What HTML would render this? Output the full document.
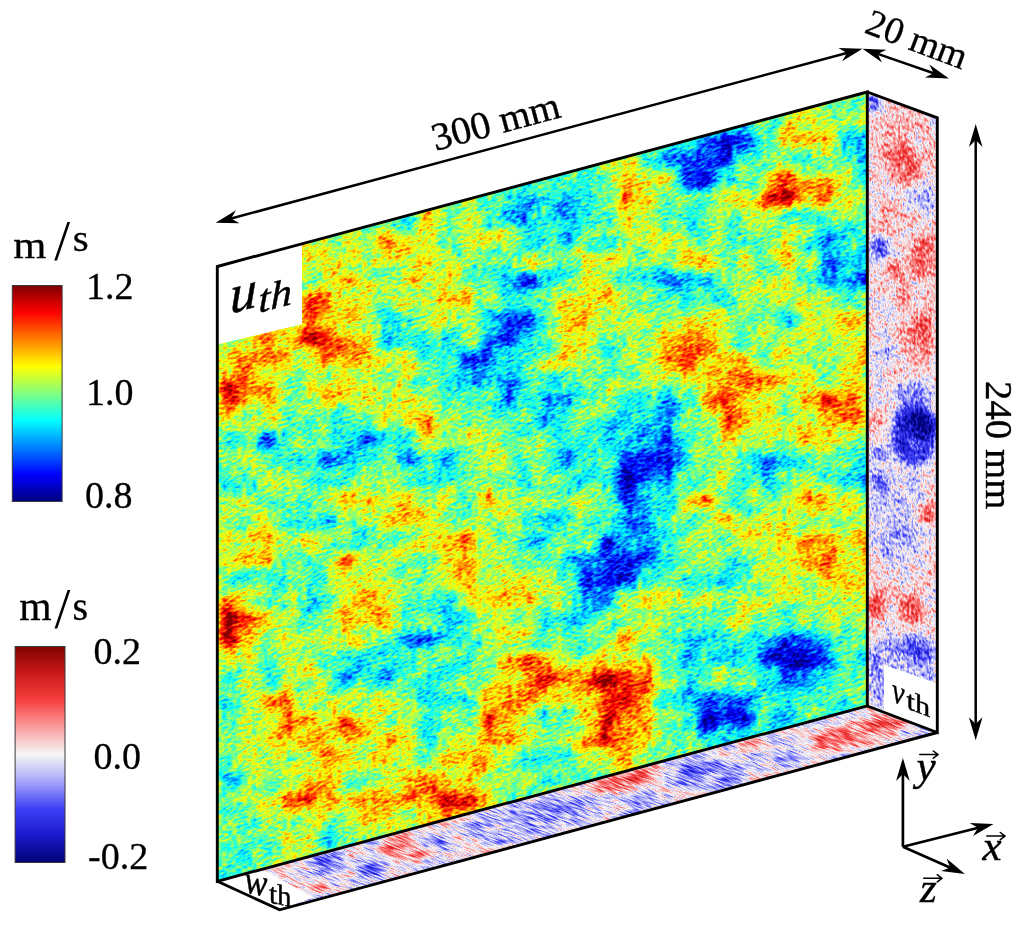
<!DOCTYPE html>
<html lang="en"><head><meta charset="utf-8"><title>Thermal velocity fields</title>
<style>
html,body{margin:0;padding:0;background:#fff;overflow:hidden}
svg{display:block}
.se{font-family:"Liberation Serif","DejaVu Serif",serif}
.it{font-family:"Liberation Serif","DejaVu Serif",serif;font-style:italic}
</style></head>
<body>
<svg width="1025" height="927" viewBox="0 0 1025 927">
<defs>
<linearGradient id="gjet" x1="0" y1="1" x2="0" y2="0">
<stop offset="0" stop-color="#000080"/><stop offset="0.125" stop-color="#0000ff"/><stop offset="0.25" stop-color="#0080ff"/><stop offset="0.375" stop-color="#00ffff"/><stop offset="0.5" stop-color="#80ff80"/><stop offset="0.625" stop-color="#ffff00"/><stop offset="0.75" stop-color="#ff8000"/><stop offset="0.875" stop-color="#ff0000"/><stop offset="1" stop-color="#800000"/>
</linearGradient>
<linearGradient id="gbwr" x1="0" y1="1" x2="0" y2="0">
<stop offset="0" stop-color="#000073"/><stop offset="0.125" stop-color="#1a1acc"/><stop offset="0.25" stop-color="#4040f7"/><stop offset="0.375" stop-color="#a6a6fa"/><stop offset="0.5" stop-color="#f7f7f7"/><stop offset="0.625" stop-color="#fa9e9e"/><stop offset="0.75" stop-color="#f74040"/><stop offset="0.875" stop-color="#cc1a1a"/><stop offset="1" stop-color="#800000"/>
</linearGradient>
<filter id="blurF" filterUnits="userSpaceOnUse" x="180" y="60" width="720" height="860" color-interpolation-filters="sRGB">
<feMorphology in="SourceGraphic" operator="erode" radius="3" result="e0"/>
<feComponentTransfer in="e0" result="e"><feFuncR type="table" tableValues="0.5 0.5 1"/></feComponentTransfer>
<feMorphology in="SourceGraphic" operator="dilate" radius="3" result="d0"/>
<feComponentTransfer in="d0" result="d"><feFuncR type="table" tableValues="0 0.5 0.5"/></feComponentTransfer>
<feComposite in="e" in2="d" operator="arithmetic" k1="0" k2="1" k3="1" k4="-0.5" result="m"/>
<feGaussianBlur in="m" stdDeviation="4.6"/>
<feComponentTransfer><feFuncR type="table" tableValues="0 0.07 0.16 0.275 0.39 0.5 0.61 0.725 0.85 0.95 1"/></feComponentTransfer>
</filter>
<filter id="blurS" filterUnits="userSpaceOnUse" x="180" y="60" width="790" height="870" color-interpolation-filters="sRGB"><feGaussianBlur stdDeviation="4"/></filter>
<filter id="nF" filterUnits="userSpaceOnUse" x="-20" y="-20" width="700" height="660" color-interpolation-filters="sRGB">
<feTurbulence type="fractalNoise" baseFrequency="0.045 0.055" numOctaves="3" seed="4" result="t1"/>
<feColorMatrix in="t1" type="matrix" values="0 0 0 0 0 1 0 0 0 0 0 0 0 0 0 0 0 0 0 1" result="n1"/>
<feTurbulence type="fractalNoise" baseFrequency="0.2 0.4" numOctaves="2" seed="11" result="t2"/>
<feColorMatrix in="t2" type="matrix" values="0 0 0 0 0 0 0 0 0 0 1 0 0 0 0 0 0 0 0 1" result="n2"/>
<feComposite in="n1" in2="n2" operator="arithmetic" k1="0" k2="1" k3="1" k4="0"/>
</filter>
<filter id="nR" filterUnits="userSpaceOnUse" x="-10" y="-10" width="100" height="680" color-interpolation-filters="sRGB">
<feTurbulence type="fractalNoise" baseFrequency="0.07 0.05" numOctaves="3" seed="9" result="t1"/>
<feColorMatrix in="t1" type="matrix" values="0 0 0 0 0 1 0 0 0 0 0 0 0 0 0 0 0 0 0 1" result="n1"/>
<feTurbulence type="fractalNoise" baseFrequency="0.45 0.25" numOctaves="2" seed="5" result="t2"/>
<feColorMatrix in="t2" type="matrix" values="0 0 0 0 0 0 0 0 0 0 1 0 0 0 0 0 0 0 0 1" result="n2"/>
<feComposite in="n1" in2="n2" operator="arithmetic" k1="0" k2="1" k3="1" k4="0"/>
</filter>
<filter id="nB" filterUnits="userSpaceOnUse" x="-20" y="-6" width="700" height="44" color-interpolation-filters="sRGB">
<feTurbulence type="fractalNoise" baseFrequency="0.05 0.1" numOctaves="3" seed="2" result="t1"/>
<feColorMatrix in="t1" type="matrix" values="0 0 0 0 0 1 0 0 0 0 0 0 0 0 0 0 0 0 0 1" result="n1"/>
<feTurbulence type="fractalNoise" baseFrequency="0.45 0.2" numOctaves="2" seed="8" result="t2"/>
<feColorMatrix in="t2" type="matrix" values="0 0 0 0 0 0 0 0 0 0 1 0 0 0 0 0 0 0 0 1" result="n2"/>
<feComposite in="n1" in2="n2" operator="arithmetic" k1="0" k2="1" k3="1" k4="0"/>
</filter>
<filter id="fjet" filterUnits="userSpaceOnUse" x="190" y="70" width="700" height="840" color-interpolation-filters="sRGB">
<feColorMatrix type="matrix" values="1 0.36 0.5 0 -0.43  1 0.36 0.5 0 -0.43  1 0.36 0.5 0 -0.43  0 0 0 0 1"/>
<feComponentTransfer>
<feFuncR type="table" tableValues="0 0 0 0 0.5 1 1 1 0.5"/><feFuncG type="table" tableValues="0 0 0.5 1 1 1 0.5 0 0"/><feFuncB type="table" tableValues="0.5 1 1 1 0.5 0 0 0 0"/>
</feComponentTransfer>
</filter>
<filter id="fbwr" filterUnits="userSpaceOnUse" x="190" y="70" width="770" height="850" color-interpolation-filters="sRGB">
<feColorMatrix type="matrix" values="1 0.28 0.62 0 -0.45  1 0.28 0.62 0 -0.45  1 0.28 0.62 0 -0.45  0 0 0 0 1"/>
<feComponentTransfer>
<feFuncR type="table" tableValues="0 0.1 0.25 0.65 0.97 0.98 0.97 0.8 0.5"/><feFuncG type="table" tableValues="0 0.1 0.25 0.65 0.97 0.62 0.25 0.1 0"/><feFuncB type="table" tableValues="0.45 0.8 0.97 0.98 0.97 0.62 0.25 0.1 0"/>
</feComponentTransfer>
</filter>
<clipPath id="cfront"><polygon points="217.3,266.5 867.3,92.0 867.3,706.0 217.3,881.3"/></clipPath>
<clipPath id="cright"><polygon points="867.3,92.0 937.3,117.8 937.3,732.5 867.3,706.0"/></clipPath>
<clipPath id="cbottom"><polygon points="217.3,881.3 867.3,706.0 937.3,732.5 279.6,909.8"/></clipPath>
</defs>
<rect width="1025" height="927" fill="#fff"/>

<!-- front face : u_th -->
<g clip-path="url(#cfront)"><g filter="url(#fjet)">
<g filter="url(#blurF)">
<rect x="170" y="50" width="740" height="880" fill="rgb(138,0,0)"/>
<path fill="rgb(18,0,0)" d="M717 130h20v20h-20zM617 470h20v20h-20zM597 570h20v20h-20zM777 650h40v20h-40zM697 710h20v20h-20z"/>
<path fill="rgb(46,0,0)" d="M737 130h20v20h-20zM677 150h60v20h-60zM677 170h40v20h-40zM517 270h20v20h-20zM657 270h20v20h-20zM857 270h20v20h-20zM497 310h40v20h-40zM497 330h20v20h-20zM457 350h40v20h-40zM497 390h20v20h-20zM257 430h20v20h-20zM357 430h20v20h-20zM657 430h20v20h-20zM317 450h20v20h-20zM617 450h60v20h-60zM757 450h20v20h-20zM637 470h20v20h-20zM617 490h20v20h-20zM597 530h20v20h-20zM597 550h60v20h-60zM577 570h20v20h-20zM617 570h20v20h-20zM777 630h40v20h-40zM757 650h20v20h-20zM817 650h20v20h-20zM777 670h20v20h-20zM697 690h40v20h-40zM717 710h40v20h-40z"/>
<path fill="rgb(76,0,0)" d="M697 130h20v20h-20zM857 130h20v20h-20zM657 150h20v20h-20zM857 150h20v20h-20zM517 190h20v20h-20zM557 190h20v20h-20zM517 210h20v20h-20zM557 210h20v20h-20zM557 230h20v20h-20zM817 230h20v20h-20zM817 250h60v20h-60zM497 270h20v20h-20zM637 270h20v20h-20zM677 270h40v20h-40zM817 270h40v20h-40zM677 290h20v20h-20zM377 330h20v20h-20zM477 330h20v20h-20zM517 330h20v20h-20zM457 370h60v20h-60zM537 390h40v20h-40zM657 390h20v20h-20zM537 410h20v20h-20zM637 410h40v20h-40zM337 430h20v20h-20zM597 430h20v20h-20zM637 430h20v20h-20zM337 450h20v20h-20zM397 450h20v20h-20zM437 450h20v20h-20zM557 450h20v20h-20zM677 450h20v20h-20zM857 450h20v20h-20zM417 470h20v20h-20zM597 470h20v20h-20zM657 470h20v20h-20zM757 470h20v20h-20zM857 470h20v20h-20zM637 490h20v20h-20zM317 510h20v20h-20zM537 510h20v20h-20zM617 510h40v20h-40zM517 530h20v20h-20zM617 530h40v20h-40zM557 550h40v20h-40zM717 570h20v20h-20zM577 590h40v20h-40zM457 610h20v20h-20zM557 610h20v20h-20zM397 630h40v20h-40zM757 630h20v20h-20zM817 630h20v20h-20zM677 650h20v20h-20zM717 650h20v20h-20zM857 650h20v20h-20zM337 670h20v20h-20zM377 670h20v20h-20zM797 670h20v20h-20zM737 690h20v20h-20zM697 730h20v20h-20zM217 770h20v20h-20zM317 830h20v20h-20z"/>
<path fill="rgb(102,0,0)" d="M737 110h20v20h-20zM657 130h40v20h-40zM757 130h20v20h-20zM837 130h20v20h-20zM637 150h20v20h-20zM737 150h20v20h-20zM837 150h20v20h-20zM537 170h60v20h-60zM717 170h20v20h-20zM857 170h20v20h-20zM497 190h20v20h-20zM537 190h20v20h-20zM577 190h20v20h-20zM697 190h20v20h-20zM397 210h20v20h-20zM497 210h20v20h-20zM537 210h20v20h-20zM577 210h20v20h-20zM677 210h20v20h-20zM797 210h40v20h-40zM517 230h20v20h-20zM837 230h40v20h-40zM537 270h20v20h-20zM797 270h20v20h-20zM497 290h40v20h-40zM717 290h20v20h-20zM377 310h40v20h-40zM477 310h20v20h-20zM777 310h20v20h-20zM397 330h40v20h-40zM417 350h40v20h-40zM497 350h20v20h-20zM437 370h20v20h-20zM517 370h60v20h-60zM517 390h20v20h-20zM617 390h40v20h-40zM297 410h20v20h-20zM597 410h40v20h-40zM217 430h40v20h-40zM277 430h20v20h-20zM377 430h40v20h-40zM557 430h20v20h-20zM617 430h20v20h-20zM677 430h20v20h-20zM297 450h20v20h-20zM357 450h20v20h-20zM417 450h20v20h-20zM537 450h20v20h-20zM577 450h40v20h-40zM737 450h20v20h-20zM777 450h40v20h-40zM217 470h20v20h-20zM437 470h40v20h-40zM517 470h20v20h-20zM557 470h40v20h-40zM817 470h40v20h-40zM657 490h20v20h-20zM277 510h40v20h-40zM457 510h20v20h-20zM557 510h20v20h-20zM597 510h20v20h-20zM657 510h20v20h-20zM357 530h20v20h-20zM537 530h20v20h-20zM657 530h20v20h-20zM657 550h20v20h-20zM717 550h20v20h-20zM277 570h20v20h-20zM637 570h20v20h-20zM677 570h40v20h-40zM297 590h40v20h-40zM417 590h40v20h-40zM297 610h20v20h-20zM397 610h20v20h-20zM437 610h20v20h-20zM537 610h20v20h-20zM577 610h20v20h-20zM437 630h40v20h-40zM557 630h20v20h-20zM677 630h80v20h-80zM337 650h80v20h-80zM697 650h20v20h-20zM737 650h20v20h-20zM837 650h20v20h-20zM357 670h20v20h-20zM397 670h60v20h-60zM677 670h20v20h-20zM757 670h20v20h-20zM817 670h20v20h-20zM217 690h20v20h-20zM417 690h40v20h-40zM657 690h40v20h-40zM757 690h60v20h-60zM837 690h20v20h-20zM417 710h20v20h-20zM677 710h20v20h-20zM757 710h120v20h-120zM717 730h160v20h-160zM517 750h60v20h-60zM537 770h20v20h-20zM217 850h40v20h-40zM217 870h20v20h-20z"/>
<path fill="rgb(121,0,0)" d="M757 110h20v20h-20zM837 110h20v20h-20zM577 150h20v20h-20zM757 150h20v20h-20zM797 150h20v20h-20zM497 170h40v20h-40zM737 170h20v20h-20zM477 190h20v20h-20zM597 190h20v20h-20zM657 190h40v20h-40zM357 210h40v20h-40zM477 210h20v20h-20zM597 210h20v20h-20zM657 210h20v20h-20zM697 210h40v20h-40zM777 210h20v20h-20zM837 210h40v20h-40zM437 230h20v20h-20zM537 230h20v20h-20zM577 230h40v20h-40zM697 230h60v20h-60zM797 230h20v20h-20zM457 250h60v20h-60zM537 250h40v20h-40zM637 250h20v20h-20zM717 250h20v20h-20zM757 250h20v20h-20zM377 270h20v20h-20zM477 270h20v20h-20zM557 270h20v20h-20zM617 270h20v20h-20zM717 270h20v20h-20zM477 290h20v20h-20zM537 290h20v20h-20zM637 290h40v20h-40zM697 290h20v20h-20zM837 290h20v20h-20zM457 310h20v20h-20zM537 310h20v20h-20zM737 310h40v20h-40zM437 330h40v20h-40zM537 330h20v20h-20zM597 330h40v20h-40zM737 330h20v20h-20zM517 350h20v20h-20zM597 350h40v20h-40zM817 350h20v20h-20zM417 370h20v20h-20zM577 370h20v20h-20zM617 370h20v20h-20zM817 370h20v20h-20zM437 390h60v20h-60zM577 390h40v20h-40zM677 390h20v20h-20zM277 410h20v20h-20zM317 410h60v20h-60zM457 410h20v20h-20zM497 410h40v20h-40zM557 410h40v20h-40zM677 410h20v20h-20zM297 430h40v20h-40zM497 430h60v20h-60zM577 430h20v20h-20zM697 430h20v20h-20zM857 430h20v20h-20zM217 450h20v20h-20zM257 450h40v20h-40zM377 450h20v20h-20zM457 450h20v20h-20zM517 450h20v20h-20zM697 450h20v20h-20zM837 450h20v20h-20zM237 470h20v20h-20zM297 470h80v20h-80zM397 470h20v20h-20zM497 470h20v20h-20zM537 470h20v20h-20zM677 470h40v20h-40zM737 470h20v20h-20zM777 470h20v20h-20zM217 490h20v20h-20zM257 490h60v20h-60zM457 490h20v20h-20zM517 490h20v20h-20zM597 490h20v20h-20zM717 490h60v20h-60zM857 490h20v20h-20zM237 510h20v20h-20zM337 510h20v20h-20zM517 510h20v20h-20zM577 510h20v20h-20zM677 510h40v20h-40zM817 510h20v20h-20zM317 530h40v20h-40zM377 530h20v20h-20zM497 530h20v20h-20zM557 530h40v20h-40zM277 550h40v20h-40zM397 550h40v20h-40zM517 550h40v20h-40zM677 550h20v20h-20zM737 550h20v20h-20zM217 570h60v20h-60zM297 570h40v20h-40zM417 570h20v20h-20zM557 570h20v20h-20zM657 570h20v20h-20zM737 570h20v20h-20zM257 590h40v20h-40zM397 590h20v20h-20zM557 590h20v20h-20zM717 590h20v20h-20zM417 610h20v20h-20zM597 610h20v20h-20zM677 610h40v20h-40zM777 610h40v20h-40zM377 630h20v20h-20zM537 630h20v20h-20zM577 630h20v20h-20zM637 630h40v20h-40zM837 630h40v20h-40zM257 650h20v20h-20zM317 650h20v20h-20zM417 650h80v20h-80zM657 650h20v20h-20zM217 670h60v20h-60zM317 670h20v20h-20zM457 670h20v20h-20zM657 670h20v20h-20zM697 670h20v20h-20zM737 670h20v20h-20zM837 670h40v20h-40zM457 690h20v20h-20zM817 690h20v20h-20zM857 690h20v20h-20zM217 710h20v20h-20zM437 710h40v20h-40zM537 710h40v20h-40zM657 710h20v20h-20zM217 730h20v20h-20zM417 730h20v20h-20zM537 730h20v20h-20zM657 730h40v20h-40zM217 750h20v20h-20zM417 750h20v20h-20zM657 750h20v20h-20zM237 770h20v20h-20zM337 770h20v20h-20zM497 770h20v20h-20zM557 770h40v20h-40zM217 790h40v20h-40zM517 790h20v20h-20zM217 810h40v20h-40zM217 830h60v20h-60zM337 830h20v20h-20zM237 870h20v20h-20z"/>
<path fill="rgb(142,0,0)" d="M217 90h660v20h-660zM217 110h520v20h-520zM817 110h20v20h-20zM857 110h20v20h-20zM217 130h440v20h-440zM217 150h360v20h-360zM597 150h40v20h-40zM777 150h20v20h-20zM817 150h20v20h-20zM217 170h280v20h-280zM597 170h20v20h-20zM837 170h20v20h-20zM217 190h240v20h-240zM737 190h20v20h-20zM857 190h20v20h-20zM217 210h140v20h-140zM437 210h40v20h-40zM637 210h20v20h-20zM737 210h40v20h-40zM217 230h80v20h-80zM317 230h20v20h-20zM357 230h20v20h-20zM417 230h20v20h-20zM457 230h20v20h-20zM497 230h20v20h-20zM617 230h40v20h-40zM677 230h20v20h-20zM757 230h20v20h-20zM217 250h80v20h-80zM337 250h40v20h-40zM437 250h20v20h-20zM517 250h20v20h-20zM597 250h40v20h-40zM657 250h20v20h-20zM797 250h20v20h-20zM217 270h100v20h-100zM357 270h20v20h-20zM437 270h40v20h-40zM597 270h20v20h-20zM737 270h60v20h-60zM217 290h80v20h-80zM357 290h60v20h-60zM617 290h20v20h-20zM737 290h100v20h-100zM857 290h20v20h-20zM217 310h80v20h-80zM357 310h20v20h-20zM417 310h20v20h-20zM597 310h40v20h-40zM657 310h20v20h-20zM717 310h20v20h-20zM797 310h20v20h-20zM857 310h20v20h-20zM577 330h20v20h-20zM637 330h20v20h-20zM717 330h20v20h-20zM757 330h80v20h-80zM297 350h20v20h-20zM377 350h40v20h-40zM537 350h20v20h-20zM577 350h20v20h-20zM637 350h20v20h-20zM757 350h60v20h-60zM277 370h80v20h-80zM377 370h40v20h-40zM597 370h20v20h-20zM637 370h40v20h-40zM777 370h20v20h-20zM277 390h40v20h-40zM377 390h60v20h-60zM777 390h20v20h-20zM237 410h40v20h-40zM377 410h20v20h-20zM437 410h20v20h-20zM477 410h20v20h-20zM697 410h20v20h-20zM777 410h40v20h-40zM437 430h60v20h-60zM737 430h60v20h-60zM837 430h20v20h-20zM237 450h20v20h-20zM477 450h40v20h-40zM717 450h20v20h-20zM817 450h20v20h-20zM257 470h40v20h-40zM477 470h20v20h-20zM717 470h20v20h-20zM797 470h20v20h-20zM237 490h20v20h-20zM317 490h20v20h-20zM377 490h20v20h-20zM417 490h20v20h-20zM497 490h20v20h-20zM537 490h60v20h-60zM837 490h20v20h-20zM217 510h20v20h-20zM357 510h20v20h-20zM437 510h20v20h-20zM477 510h20v20h-20zM737 510h80v20h-80zM837 510h20v20h-20zM237 530h20v20h-20zM277 530h20v20h-20zM397 530h20v20h-20zM477 530h20v20h-20zM677 530h60v20h-60zM757 530h20v20h-20zM217 550h20v20h-20zM317 550h20v20h-20zM377 550h20v20h-20zM477 550h40v20h-40zM697 550h20v20h-20zM757 550h20v20h-20zM337 570h20v20h-20zM377 570h40v20h-40zM477 570h20v20h-20zM537 570h20v20h-20zM757 570h60v20h-60zM457 590h20v20h-20zM537 590h20v20h-20zM617 590h20v20h-20zM677 590h40v20h-40zM737 590h120v20h-120zM277 610h20v20h-20zM317 610h20v20h-20zM477 610h60v20h-60zM617 610h60v20h-60zM717 610h60v20h-60zM817 610h60v20h-60zM257 630h80v20h-80zM357 630h20v20h-20zM477 630h60v20h-60zM597 630h20v20h-20zM237 650h20v20h-20zM277 650h40v20h-40zM557 650h20v20h-20zM277 670h40v20h-40zM477 670h20v20h-20zM717 670h20v20h-20zM237 690h20v20h-20zM297 690h120v20h-120zM237 710h40v20h-40zM377 710h40v20h-40zM237 730h40v20h-40zM437 730h20v20h-20zM517 730h20v20h-20zM557 730h20v20h-20zM237 750h80v20h-80zM357 750h60v20h-60zM497 750h20v20h-20zM577 750h20v20h-20zM637 750h20v20h-20zM677 750h200v20h-200zM257 770h40v20h-40zM357 770h40v20h-40zM477 770h20v20h-20zM517 770h20v20h-20zM597 770h280v20h-280zM497 790h20v20h-20zM537 790h340v20h-340zM257 810h100v20h-100zM377 810h40v20h-40zM477 810h400v20h-400zM277 830h40v20h-40zM357 830h520v20h-520zM257 850h620v20h-620zM257 870h620v20h-620z"/>
<path fill="rgb(161,0,0)" d="M777 110h40v20h-40zM777 130h40v20h-40zM617 170h60v20h-60zM797 170h20v20h-20zM457 190h20v20h-20zM637 190h20v20h-20zM717 190h20v20h-20zM837 190h20v20h-20zM417 210h20v20h-20zM617 210h20v20h-20zM297 230h20v20h-20zM337 230h20v20h-20zM397 230h20v20h-20zM477 230h20v20h-20zM657 230h20v20h-20zM777 230h20v20h-20zM297 250h40v20h-40zM377 250h60v20h-60zM577 250h20v20h-20zM737 250h20v20h-20zM777 250h20v20h-20zM317 270h20v20h-20zM397 270h40v20h-40zM577 270h20v20h-20zM337 290h20v20h-20zM417 290h20v20h-20zM557 290h40v20h-40zM337 310h20v20h-20zM437 310h20v20h-20zM557 310h40v20h-40zM637 310h20v20h-20zM677 310h40v20h-40zM817 310h20v20h-20zM217 330h40v20h-40zM277 330h20v20h-20zM557 330h20v20h-20zM837 330h40v20h-40zM217 350h20v20h-20zM357 350h20v20h-20zM717 350h40v20h-40zM837 350h20v20h-20zM257 370h20v20h-20zM357 370h20v20h-20zM677 370h40v20h-40zM797 370h20v20h-20zM837 370h40v20h-40zM257 390h20v20h-20zM337 390h40v20h-40zM737 390h40v20h-40zM857 390h20v20h-20zM397 410h20v20h-20zM737 410h20v20h-20zM817 410h20v20h-20zM417 430h20v20h-20zM377 470h20v20h-20zM397 490h20v20h-20zM437 490h20v20h-20zM677 490h20v20h-20zM777 490h20v20h-20zM397 510h40v20h-40zM497 510h20v20h-20zM717 510h20v20h-20zM857 510h20v20h-20zM217 530h20v20h-20zM257 530h20v20h-20zM297 530h20v20h-20zM417 530h40v20h-40zM737 530h20v20h-20zM777 530h20v20h-20zM837 530h40v20h-40zM357 550h20v20h-20zM777 550h20v20h-20zM837 550h40v20h-40zM357 570h20v20h-20zM437 570h20v20h-20zM497 570h40v20h-40zM817 570h60v20h-60zM237 590h20v20h-20zM337 590h20v20h-20zM377 590h20v20h-20zM477 590h20v20h-20zM637 590h40v20h-40zM857 590h20v20h-20zM357 610h40v20h-40zM337 630h20v20h-20zM617 630h20v20h-20zM217 650h20v20h-20zM577 650h40v20h-40zM637 650h20v20h-20zM497 670h20v20h-20zM477 690h20v20h-20zM537 690h60v20h-60zM317 710h20v20h-20zM357 710h20v20h-20zM517 710h20v20h-20zM577 710h20v20h-20zM297 730h40v20h-40zM357 730h20v20h-20zM397 730h20v20h-20zM457 730h20v20h-20zM637 730h20v20h-20zM337 750h20v20h-20zM437 750h40v20h-40zM597 750h40v20h-40zM457 770h20v20h-20zM257 790h20v20h-20zM337 790h20v20h-20zM357 810h20v20h-20zM417 810h20v20h-20zM457 810h20v20h-20z"/>
<path fill="rgb(181,0,0)" d="M817 130h20v20h-20zM757 170h20v20h-20zM817 170h20v20h-20zM617 190h20v20h-20zM797 190h40v20h-40zM377 230h20v20h-20zM677 250h40v20h-40zM337 270h20v20h-20zM297 290h40v20h-40zM437 290h40v20h-40zM597 290h20v20h-20zM317 310h20v20h-20zM837 310h20v20h-20zM257 330h20v20h-20zM337 330h40v20h-40zM657 330h60v20h-60zM237 350h60v20h-60zM317 350h40v20h-40zM557 350h20v20h-20zM657 350h20v20h-20zM697 350h20v20h-20zM857 350h20v20h-20zM717 370h20v20h-20zM757 370h20v20h-20zM237 390h20v20h-20zM317 390h20v20h-20zM697 390h20v20h-20zM797 390h20v20h-20zM217 410h20v20h-20zM417 410h20v20h-20zM757 410h20v20h-20zM837 410h40v20h-40zM717 430h20v20h-20zM797 430h40v20h-40zM337 490h40v20h-40zM477 490h20v20h-20zM817 490h20v20h-20zM257 510h20v20h-20zM377 510h20v20h-20zM797 530h40v20h-40zM237 550h40v20h-40zM437 550h40v20h-40zM797 550h40v20h-40zM457 570h20v20h-20zM217 590h20v20h-20zM357 590h20v20h-20zM497 590h40v20h-40zM257 610h20v20h-20zM337 610h20v20h-20zM237 630h20v20h-20zM497 650h20v20h-20zM537 650h20v20h-20zM617 650h20v20h-20zM517 670h20v20h-20zM557 670h20v20h-20zM637 670h20v20h-20zM257 690h20v20h-20zM497 690h40v20h-40zM637 690h20v20h-20zM277 710h40v20h-40zM497 710h20v20h-20zM617 710h40v20h-40zM277 730h20v20h-20zM337 730h20v20h-20zM377 730h20v20h-20zM477 730h40v20h-40zM577 730h20v20h-20zM617 730h20v20h-20zM317 750h20v20h-20zM477 750h20v20h-20zM297 770h40v20h-40zM397 770h60v20h-60zM277 790h20v20h-20zM317 790h20v20h-20zM357 790h40v20h-40zM417 790h20v20h-20zM477 790h20v20h-20zM437 810h20v20h-20z"/>
<path fill="rgb(209,0,0)" d="M777 170h20v20h-20zM757 190h40v20h-40zM297 310h20v20h-20zM297 330h40v20h-40zM677 350h20v20h-20zM217 370h40v20h-40zM737 370h20v20h-20zM217 390h20v20h-20zM717 390h20v20h-20zM817 390h40v20h-40zM717 410h20v20h-20zM697 490h20v20h-20zM797 490h20v20h-20zM457 530h20v20h-20zM337 550h20v20h-20zM237 610h20v20h-20zM517 650h20v20h-20zM537 670h20v20h-20zM577 670h20v20h-20zM617 670h20v20h-20zM277 690h20v20h-20zM597 690h20v20h-20zM337 710h20v20h-20zM477 710h20v20h-20zM597 710h20v20h-20zM297 790h20v20h-20zM397 790h20v20h-20zM457 790h20v20h-20z"/>
<path fill="rgb(240,0,0)" d="M217 610h20v20h-20zM217 630h20v20h-20zM597 670h20v20h-20zM617 690h20v20h-20zM597 730h20v20h-20zM437 790h20v20h-20z"/>

</g>
<g transform="translate(217.3,266.5) skewY(-15.03)" style="mix-blend-mode:screen"><rect x="-20" y="-20" width="700" height="660" filter="url(#nF)"/></g>
</g></g>

<!-- right face : v_th -->
<g clip-path="url(#cright)"><g filter="url(#fbwr)">
<g filter="url(#blurS)">
<rect x="840" y="60" width="130" height="720" fill="rgb(134,0,0)"/>
<ellipse cx="905" cy="150" rx="30" ry="45" fill="rgb(149,0,0)"/>
<ellipse cx="915" cy="265" rx="20" ry="32" fill="rgb(149,0,0)"/>
<ellipse cx="885" cy="215" rx="12" ry="30" fill="rgb(145,0,0)"/>
<ellipse cx="920" cy="335" rx="14" ry="30" fill="rgb(153,0,0)"/>
<ellipse cx="905" cy="300" rx="12" ry="15" fill="rgb(148,0,0)"/>
<ellipse cx="900" cy="520" rx="34" ry="45" fill="rgb(112,0,0)"/>
<ellipse cx="900" cy="670" rx="34" ry="40" fill="rgb(107,0,0)"/>
<ellipse cx="880" cy="360" rx="10" ry="30" fill="rgb(115,0,0)"/>
<ellipse cx="928" cy="512" rx="11" ry="16" fill="rgb(148,0,0)"/>
<ellipse cx="874" cy="104" rx="6" ry="10" fill="rgb(64,0,0)"/>
<ellipse cx="879" cy="248" rx="8" ry="15" fill="rgb(71,0,0)"/>
<ellipse cx="921" cy="197" rx="11" ry="18" fill="rgb(102,0,0)"/>
<ellipse cx="915" cy="395" rx="20" ry="15" fill="rgb(92,0,0)"/>
<ellipse cx="914" cy="435" rx="24" ry="32" fill="rgb(51,0,0)"/>
<ellipse cx="922" cy="425" rx="14" ry="16" fill="rgb(13,0,0)"/>
<ellipse cx="879" cy="455" rx="8" ry="9" fill="rgb(76,0,0)"/>
<ellipse cx="880" cy="482" rx="8" ry="13" fill="rgb(71,0,0)"/>
<ellipse cx="898" cy="530" rx="8" ry="9" fill="rgb(87,0,0)"/>
<ellipse cx="916" cy="650" rx="21" ry="15" fill="rgb(69,0,0)"/>
<ellipse cx="876" cy="680" rx="8" ry="24" fill="rgb(84,0,0)"/>
<ellipse cx="905" cy="161" rx="13" ry="17" fill="rgb(184,0,0)"/>
<ellipse cx="927" cy="257" rx="9" ry="20" fill="rgb(184,0,0)"/>
<ellipse cx="898" cy="268" rx="9" ry="9" fill="rgb(171,0,0)"/>
<ellipse cx="921" cy="335" rx="11" ry="20" fill="rgb(184,0,0)"/>
<ellipse cx="875" cy="420" rx="6" ry="13" fill="rgb(173,0,0)"/>
<ellipse cx="928" cy="514" rx="9" ry="11" fill="rgb(184,0,0)"/>
<ellipse cx="878" cy="605" rx="9" ry="15" fill="rgb(189,0,0)"/>
<ellipse cx="911" cy="611" rx="13" ry="13" fill="rgb(189,0,0)"/>
</g>
<g transform="translate(867.3,92) skewY(20.6)" style="mix-blend-mode:screen"><rect x="-10" y="-10" width="100" height="680" filter="url(#nR)"/></g>
</g></g>

<!-- bottom face : w_th -->
<g clip-path="url(#cbottom)"><g filter="url(#fbwr)">
<g filter="url(#blurS)">
<rect x="180" y="680" width="790" height="250" fill="rgb(127,0,0)"/>
<ellipse cx="540" cy="820" rx="75" ry="16" fill="rgb(112,0,0)" transform="rotate(-15 540 820)"/>
<ellipse cx="715" cy="770" rx="55" ry="14" fill="rgb(112,0,0)" transform="rotate(-15 715 770)"/>
<ellipse cx="345" cy="868" rx="50" ry="10" fill="rgb(115,0,0)" transform="rotate(-15 345 868)"/>
<ellipse cx="325" cy="861" rx="22" ry="7" fill="rgb(76,0,0)" transform="rotate(-15 325 861)"/>
<ellipse cx="371" cy="872" rx="16" ry="7" fill="rgb(76,0,0)" transform="rotate(-15 371 872)"/>
<ellipse cx="437" cy="843" rx="16" ry="7" fill="rgb(82,0,0)" transform="rotate(-15 437 843)"/>
<ellipse cx="492" cy="825" rx="22" ry="7" fill="rgb(76,0,0)" transform="rotate(-15 492 825)"/>
<ellipse cx="528" cy="816" rx="45" ry="12" fill="rgb(92,0,0)" transform="rotate(-15 528 816)"/>
<ellipse cx="580" cy="805" rx="20" ry="9" fill="rgb(82,0,0)" transform="rotate(-15 580 805)"/>
<ellipse cx="642" cy="804" rx="20" ry="7" fill="rgb(82,0,0)" transform="rotate(-15 642 804)"/>
<ellipse cx="700" cy="768" rx="25" ry="11" fill="rgb(76,0,0)" transform="rotate(-15 700 768)"/>
<ellipse cx="726" cy="783" rx="18" ry="7" fill="rgb(82,0,0)" transform="rotate(-15 726 783)"/>
<ellipse cx="785" cy="758" rx="14" ry="9" fill="rgb(87,0,0)" transform="rotate(-15 785 758)"/>
<ellipse cx="895" cy="715" rx="16" ry="4" fill="rgb(92,0,0)" transform="rotate(-15 895 715)"/>
<ellipse cx="318" cy="884" rx="10" ry="5" fill="rgb(184,0,0)" transform="rotate(-15 318 884)"/>
<ellipse cx="395" cy="846" rx="18" ry="6" fill="rgb(194,0,0)" transform="rotate(-15 395 846)"/>
<ellipse cx="425" cy="852" rx="14" ry="4" fill="rgb(178,0,0)" transform="rotate(-15 425 852)"/>
<ellipse cx="623" cy="781" rx="30" ry="8" fill="rgb(194,0,0)" transform="rotate(-15 623 781)"/>
<ellipse cx="748" cy="746" rx="13" ry="5" fill="rgb(178,0,0)" transform="rotate(-15 748 746)"/>
<ellipse cx="860" cy="731" rx="52" ry="11" fill="rgb(173,0,0)" transform="rotate(-15 860 731)"/>
<ellipse cx="835" cy="735" rx="18" ry="7" fill="rgb(189,0,0)" transform="rotate(-15 835 735)"/>
<ellipse cx="885" cy="722" rx="16" ry="6" fill="rgb(184,0,0)" transform="rotate(-15 885 722)"/>
</g>
<g transform="matrix(1,-0.2692,2.35,1,217.3,881.3)" style="mix-blend-mode:screen"><rect x="-20" y="-6" width="700" height="44" filter="url(#nB)"/></g>
</g></g>

<!-- white label boxes -->
<polygon points="217.3,266.5 302.0,243.8 302.0,324.3 217.3,344.5" fill="#fff"/>
<polygon points="884.0,664.7 937.3,683.5 937.3,732.5 884.0,712.5" fill="#fff"/>
<polygon points="217.3,881.3 262.0,869.0 313.0,897.5 279.6,909.8" fill="#fff"/>

<!-- box edges -->
<g fill="none" stroke="#000" stroke-width="2.9" stroke-linejoin="miter">
<polygon points="217.3,266.5 867.3,92.0 867.3,706.0 217.3,881.3"/>
<polyline points="867.3,92.0 937.3,117.8 937.3,732.5 867.3,706.0"/>
<polyline points="217.3,881.3 279.6,909.8 937.3,732.5"/>
</g>

<!-- dimension arrows -->
<g fill="#000">
<line x1="226.7" y1="219.7" x2="851.4" y2="51.7" stroke="#000" stroke-width="2.5"/><polygon points="862.5,48.7 842.1,61.2 847.0,52.9 838.5,48.1"/><polygon points="215.6,222.7 236.0,210.2 231.1,218.5 239.6,223.3"/>
<line x1="873.4" y1="52.4" x2="938.0" y2="74.7" stroke="#000" stroke-width="2.5"/><polygon points="948.9,78.4 924.9,77.4 933.7,73.2 929.4,64.5"/><polygon points="862.5,48.7 886.5,49.7 877.7,53.9 882.0,62.6"/>
<line x1="975.7" y1="135.5" x2="975.7" y2="728.7" stroke="#000" stroke-width="2.5"/><polygon points="975.7,740.2 968.9,717.2 975.7,724.1 982.5,717.2"/><polygon points="975.7,124.0 982.5,147.0 975.7,140.1 968.9,147.0"/>
<line x1="902.9" y1="846.8" x2="902.9" y2="769.4" stroke="#000" stroke-width="2.7"/><polygon points="902.9,757.9 909.7,780.9 902.9,774.0 896.1,780.9"/>
<line x1="902.9" y1="846.8" x2="982.4" y2="826.7" stroke="#000" stroke-width="2.7"/><polygon points="993.6,823.9 973.0,836.1 978.0,827.8 969.6,822.9"/>
<line x1="902.9" y1="846.8" x2="954.4" y2="869.4" stroke="#000" stroke-width="2.7"/><polygon points="964.9,874.0 941.1,871.0 950.2,867.5 946.6,858.5"/>
</g>

<!-- dimension labels -->
<g class="se" fill="#000" stroke="#000" stroke-width="0.35">
<text transform="translate(435.5,151) rotate(-15.03)" font-size="39" textLength="131.5" lengthAdjust="spacingAndGlyphs">300 mm</text>
<text transform="translate(863.3,32.3) rotate(20.7)" font-size="37.5" textLength="105.5" lengthAdjust="spacingAndGlyphs">20 mm</text>
<text transform="translate(985.7,381) rotate(90)" font-size="38" textLength="128.5" lengthAdjust="spacingAndGlyphs">240 mm</text>
</g>

<!-- colour bar 1 -->
<rect x="12.3" y="285.5" width="49.8" height="216" fill="url(#gjet)" stroke="#3a3a3a" stroke-width="1"/>
<g class="se" fill="#000" stroke="#000" stroke-width="0.3">
<text transform="translate(13.2,258.2) scale(1.12,1)" font-size="38">m</text>
<text x="54.3" y="260" font-size="57" stroke="none">/</text>
<text transform="translate(72.8,251.3) scale(1.08,1)" font-size="38">s</text>
<text x="86" y="299.3" font-size="38">1.2</text>
<text x="86" y="404.5" font-size="38">1.0</text>
<text x="85" y="508" font-size="38">0.8</text>
</g>

<!-- colour bar 2 -->
<rect x="15.1" y="646.5" width="49.9" height="216" fill="url(#gbwr)" stroke="#3a3a3a" stroke-width="1"/>
<g class="se" fill="#000" stroke="#000" stroke-width="0.3">
<text transform="translate(19.3,619.5) scale(1.04,1)" font-size="40">m</text>
<text x="54.5" y="627.8" font-size="57" stroke="none">/</text>
<text x="72.5" y="619.5" font-size="40">s</text>
<text x="93.5" y="663.5" font-size="38">0.2</text>
<text x="93.5" y="769.3" font-size="38">0.0</text>
<text x="88" y="869" font-size="38">-0.2</text>
</g>

<!-- face labels -->
<g fill="#000" stroke="#000" stroke-width="0.45">
<text class="it" transform="translate(230,313.7) skewY(-15.03)" font-size="54">u</text>
<text class="it" transform="translate(258.5,313) skewY(-15.03) scale(1.1,1)" font-size="39">th</text>
<text class="it" transform="translate(892,701.3) skewY(21) scale(0.78,1)" font-size="36">v</text>
<text class="se" transform="translate(906.5,708.3) skewY(21) scale(1.12,1)" font-size="27">th</text>
<text class="it" transform="translate(244.3,892.3) skewY(12) scale(0.87,1)" font-size="40">w</text>
<text class="se" transform="translate(269,902.4) skewY(12)" font-size="29">th</text>
<text class="it" x="916.5" y="779.8" font-size="43">y</text>
<text class="it" x="982.5" y="860.4" font-size="43">x</text>
<text class="it" x="920" y="902.1" font-size="43">z</text>
</g>
<g fill="none" stroke="#000" stroke-width="1.5" stroke-linecap="round" stroke-linejoin="round">
<path d="M919.8 754.6h18m-4.5-3.6l4.8 3.6l-4.8 3.6"/>
<path d="M986.8 836.1h18m-4.5-3.6l4.8 3.6l-4.8 3.6"/>
<path d="M923.7 878.3h18m-4.5-3.6l4.8 3.6l-4.8 3.6"/>
</g>
</svg>
</body></html>
